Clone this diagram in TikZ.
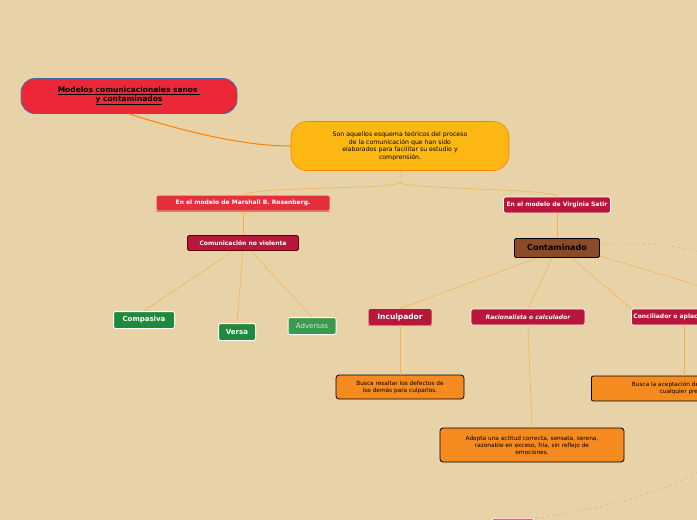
\documentclass[tikz,border=0pt]{standalone}
\usepackage{fontspec}
\setmainfont{DejaVu Sans}
\begin{document}
\begin{tikzpicture}[x=1pt,y=-1pt]
\definecolor{bg}{HTML}{E8D3A8}
\definecolor{lk}{HTML}{F5B049}
\definecolor{crim}{HTML}{B8163A}
\definecolor{rbright}{HTML}{E5303C}
\definecolor{gr}{HTML}{1E8A3E}
\definecolor{gr2}{HTML}{3C9A50}
\definecolor{orf}{HTML}{F58A1F}
\definecolor{brn}{HTML}{8C4B28}
\tikzset{lnk/.style={draw=lk,line width=0.5pt},
  redb/.style={fill=crim,draw=white,line width=0.8pt,rounded corners=1.5pt,text=white,font=\bfseries\fontsize{6}{7}\selectfont,inner sep=2pt},
  greenb/.style={fill=gr,draw=white,line width=1pt,rounded corners=1.5pt,text=white,font=\bfseries\fontsize{7}{8}\selectfont,inner sep=3pt},
  orb/.style={fill=orf,draw=black,line width=0.8pt,rounded corners=3pt,font=\fontsize{5.8}{7}\selectfont,align=center,inner sep=3pt}}
\fill[bg] (0,0) rectangle (697,520);
\useasboundingbox (0,0) rectangle (697,520);
\clip (0,0) rectangle (697,520);
\node[fill={rgb,255:red,236;green,40;blue,56},draw={rgb,255:red,60;green,110;blue,170},line width=0.8pt,rounded corners=14pt,minimum width=216pt,minimum height=35pt,align=center,font=\bfseries\fontsize{7.5}{9}\selectfont] (title) at (129,96) {\underline{Modelos comunicacionales sanos }\\\underline{y contaminados}};
\node[fill={rgb,255:red,253;green,184;blue,19},draw=orange,line width=0.6pt,rounded corners=16pt,minimum width=218pt,minimum height=49pt,align=center,font=\fontsize{6.2}{7.5}\selectfont] (def) at (400,146) {Son aquellos esquema teóricos del proceso\\de la comunicación que han sido\\elaborados para facilitar su estudio y\\comprensión.};
\node[redb,fill=rbright,draw=none,minimum width=173pt,minimum height=15pt] (mar) at (243,203) {En el modelo de Marshall B. Rosenberg.};
\draw[orange,line width=0.8pt] (mar.south west)--(mar.south east);
\node[redb,minimum width=107pt,minimum height=16pt] (vir) at (557,205) {En el modelo de Virginia Satir};
\node[redb,draw=red!40!black,minimum width=111pt,minimum height=15pt] (cnv) at (243,243) {Comunicación no violenta};
\node[fill=brn,draw=black,line width=0.8pt,rounded corners=1.5pt,minimum width=85pt,minimum height=19pt,font=\bfseries\fontsize{8}{9}\selectfont] (con) at (557,248) {Contaminado};
\node[greenb,minimum width=61pt,minimum height=17pt] (com) at (144,320) {Compasiva};
\node[greenb,minimum width=37pt,minimum height=17pt] (ver) at (237,332) {Versa};
\node[greenb,fill=gr2,text=black!12,font=\fontsize{7}{8}\selectfont,minimum width=48pt,minimum height=17pt] (adv) at (312,326) {Adversas};
\node[redb,draw=none,font=\bfseries\fontsize{7.5}{9}\selectfont,minimum width=63pt,minimum height=16pt] (inc) at (400,317) {Inculpador};
\draw[orange,line width=0.8pt] (inc.south west)--(inc.south east);
\node[redb,font=\bfseries\itshape\fontsize{6}{7}\selectfont,minimum width=114pt,minimum height=16pt] (rac) at (528,317) {Racionalista o calculador};
\node[redb,anchor=west,minimum height=16pt] (cci) at (631,317) {Conciliador o aplacador};
\node[orb,minimum width=128pt,minimum height=24pt] (b1) at (400,387) {Busca resaltar los defectos de\\los demás para culparlos.};
\node[orb,minimum width=184pt,minimum height=34pt] (b2) at (532,445) {Adopta una actitud correcta, sensata, serena,\\razonable en exceso, fría, sin reflejo de\\emociones.};
\node[orb,anchor=west,rounded corners=2pt,minimum width=185pt,minimum height=25pt] (b3) at (591,388.5) {Busca la aceptación de los demás a\\cualquier precio.};
\node[fill=crim,draw=white,line width=0.8pt,rounded corners=1.5pt,minimum width=43pt,minimum height=14pt] (bot) at (513,526) {};
% connectors
\draw[orange,line width=1pt] (title.south) .. controls (180,130) and (240,146) .. (def.west);
\draw[lnk] (def.south) -- (400,183) .. controls (380,190) and (260,186) .. (mar.north);
\draw[lnk] (400,183) .. controls (420,190) and (550,188) .. (vir.north);
\draw[lnk] (mar.south) -- (cnv.north);
\draw[lnk] (vir.south) -- (con.north);
\draw[lnk] (cnv.south) ++(-10,0) -- (com.north);
\draw[lnk] (cnv.south) -- (ver.north);
\draw[lnk] (cnv.south) ++(8,0) -- (adv.north);
\draw[lnk] (con.south) ++(-20,0) -- (inc.north);
\draw[lnk] (con.south) ++(-5,0) -- (rac.north);
\draw[lnk] (con.south) ++(15,0) -- (cci.north west);
\draw[lnk] (con.east) ++(0,8) -- (720,292);
\draw[lnk] (inc.south) -- (b1.north);
\draw[lnk] (rac.south) -- (b2.north);
\draw[lnk] (684,325) -- (684,376);
\draw[lnk,dashed] (con.east) ++(0,-3) .. controls (630,240) and (680,245) .. (710,255);
\draw[lnk,dashed] (bot.north east) .. controls (620,505) and (670,490) .. (710,465);
\end{tikzpicture}
\end{document}
